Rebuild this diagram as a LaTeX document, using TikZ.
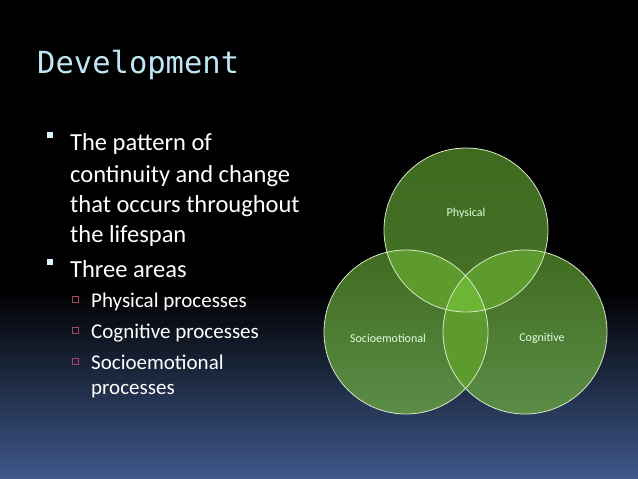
\documentclass[tikz,border=0pt]{standalone}
\usepackage{fontspec}
\setmainfont{Carlito}
\newfontfamily\titlefont{DejaVu Sans Mono}
\begin{document}
\begin{tikzpicture}[x=1pt,y=-1pt,
  btxt/.style={anchor=base west,text=white,font=\fontsize{24.5}{28}\selectfont,inner sep=0},
  stxt/.style={anchor=base west,text=white,font=\fontsize{21}{24}\selectfont,inner sep=0},
  bsq/.style={fill=white!85!cyan,minimum size=6pt,inner sep=0},
  ssq/.style={draw={rgb,255:red,170;green,70;blue,100},line width=0.9pt,minimum size=6pt,inner sep=0},
  vlab/.style={text=white!88!green,font=\fontsize{12}{14}\selectfont}]
\definecolor{cg}{HTML}{3F6B1F}
\definecolor{cgb}{HTML}{5B8D47}
\definecolor{cl}{HTML}{5E9B2E}
\definecolor{cc}{HTML}{6DB534}
\definecolor{ce}{HTML}{D8E8C8}
\useasboundingbox (0,0) rectangle (638,479);
\fill[black] (0,0) rectangle (638,292);
\shade[top color=black,bottom color={rgb,255:red,62;green,88;blue,138}] (0,290) rectangle (638,479);
\node[anchor=base west,text={rgb,255:red,190;green,230;blue,245},font=\titlefont\fontsize{30.5}{33}\selectfont,inner sep=0] (title) at (37,73) {Development};
\node[bsq] (b1) at (50,135) {};
\node[btxt] (t1) at (70,150) {The pattern of};
\node[btxt] (t2) at (70,182) {continuity and change};
\node[btxt] (t3) at (70,212) {that occurs throughout};
\node[btxt] (t4) at (70,242) {the lifespan};
\node[bsq] (b2) at (50,262) {};
\node[btxt] (t5) at (70,277) {Three areas};
\node[ssq] (s1) at (75,299) {};
\node[stxt] (u1) at (91,307) {Physical processes};
\node[ssq] (s2) at (75,330) {};
\node[stxt] (u2) at (91,338) {Cognitive processes};
\node[ssq] (s3) at (75,361) {};
\node[stxt] (u3) at (91,369) {Socioemotional};
\node[stxt] (u4) at (91,394) {processes};
% venn
\coordinate (P) at (466,230);
\coordinate (S) at (406,332);
\coordinate (C) at (525,332);
\def\R{82}
\shade[top color=cg,bottom color=cg!80!cgb] (P) circle (\R);
\shade[top color=cg,bottom color=cgb] (S) circle (\R);
\shade[top color=cg,bottom color=cgb] (C) circle (\R);
\begin{scope}\clip (P) circle (\R); \fill[cl] (S) circle (\R); \fill[cl] (C) circle (\R);\end{scope}
\begin{scope}\clip (S) circle (\R); \fill[cl] (C) circle (\R);\end{scope}
\begin{scope}\clip (P) circle (\R); \clip (S) circle (\R); \fill[cc] (C) circle (\R);\end{scope}
\draw[ce,line width=0.8pt] (P) circle (\R) (S) circle (\R) (C) circle (\R);
\node[vlab] (lp) at (466,213) {Physical};
\node[vlab] (ls) at (388,338) {Socioemotional};
\node[vlab] (lc) at (542,338) {Cognitive};
\end{tikzpicture}
\end{document}
